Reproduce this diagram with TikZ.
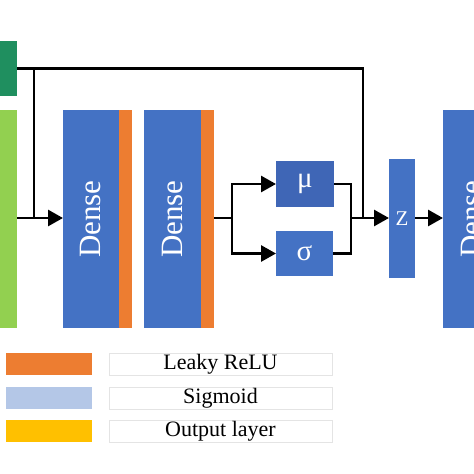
\documentclass[tikz,border=0pt]{standalone}
\usepackage{fontspec}
\setmainfont{Liberation Serif}
\usetikzlibrary{arrows.meta}
\definecolor{cblue}{HTML}{4472C4}
\definecolor{cmu}{HTML}{3F66B6}
\definecolor{corange}{HTML}{ED7D31}
\definecolor{clblue}{HTML}{B4C7E7}
\definecolor{cgold}{HTML}{FFC000}
\definecolor{cdgreen}{HTML}{1F8F5F}
\definecolor{clgreen}{HTML}{92D050}
\definecolor{cgray}{HTML}{E4E4E4}
\tikzset{
  blk/.style={draw=none, inner sep=0pt, outer sep=0pt, anchor=north west},
  dense/.style={blk, fill=cblue, text=white, minimum width=#1, minimum height=218pt,
    font=\fontsize{31}{31}\selectfont},
  strip/.style={blk, fill=corange, minimum width=13pt, minimum height=218pt},
  ln/.style={line width=2.8pt, black},
  arr/.style={ln, -{Triangle[length=15pt,width=16pt]}},
  legsw/.style={blk, minimum width=86pt, minimum height=22pt},
  legtx/.style={blk, draw=cgray, line width=0.6pt, minimum width=223pt, minimum height=22pt,
    font=\fontsize{22}{22}\selectfont},
}
\begin{document}
\begin{tikzpicture}[x=1pt, y=-1pt]
\useasboundingbox (0,0) rectangle (474,474);
\clip (0,0) rectangle (474,474);
% inputs
\node[blk, fill=cdgreen, minimum width=17pt, minimum height=55pt] (dg) at (0,41) {};
\node[blk, fill=clgreen, minimum width=17pt, minimum height=218pt] (lg) at (0,110) {};
% dense layers
\node[dense=56pt] (d1) at (63,110) {\rotatebox{90}{Dense}};
\node[strip] (d1o) at (119,110) {};
\node[dense=57pt] (d2) at (144,110) {\rotatebox{90}{Dense}};
\node[strip] (d2o) at (201,110) {};
\node[dense=56pt] (d3) at (443,110) {\rotatebox{90}{Dense}};
% mu, sigma, z
\node[blk, fill=cmu, text=white, minimum width=58pt, minimum height=46pt,
  font=\fontsize{29}{29}\selectfont] (mu) at (276,161) {μ};
\node[blk, fill=cblue, text=white, minimum width=57pt, minimum height=45pt,
  font=\fontsize{29}{29}\selectfont] (sg) at (276,231) {σ};
\node[blk, fill=cblue, text=white, minimum width=26pt, minimum height=119pt,
  font=\fontsize{21}{21}\selectfont] (z) at (389,159) {Z};
% junctions
\coordinate (j1) at (34,218);
\coordinate (j2) at (363,218);
\coordinate (b) at (232,218);
\coordinate (m) at (351,218);
% connectors
\draw[arr] (lg.east |- j1) -- (d1.west |- j1);
\draw[ln] (j1) -- (j1 |- dg.east);
\draw[ln] (dg.east) -| (j2);
\draw[ln] (d2o.east |- b) -- (b);
\draw[arr] (b) |- (mu.west);
\draw[arr] (b) |- (sg.west);
\draw[ln] (mu.east) -| (m);
\draw[ln] (sg.east) -| (m);
\draw[arr] (m) -- (z.west |- m);
\draw[arr] (z.east |- m) -- (d3.west |- m);
% legend
\node[legsw, fill=corange] (l1) at (6,353) {};
\node[legtx] (t1) at (109,353) {Leaky ReLU};
\node[legsw, fill=clblue] (l2) at (6,387) {};
\node[legtx] (t2) at (109,387) {Sigmoid};
\node[legsw, fill=cgold] (l3) at (6,420) {};
\node[legtx] (t3) at (109,420) {Output layer};
\end{tikzpicture}
\end{document}
